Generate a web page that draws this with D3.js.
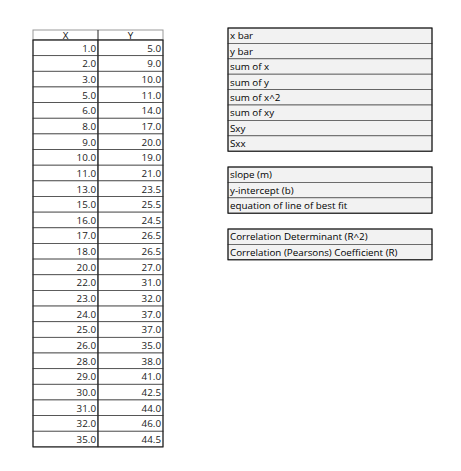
<!DOCTYPE html><html><head><meta charset="utf-8">
<script src="https://cdn.jsdelivr.net/npm/d3@7"></script>
<style>body{margin:0;background:#fff}</style></head><body>
<script>
const xs=[1,2,3,5,6,8,9,10,11,13,15,16,17,18,20,22,23,24,25,26,28,29,30,31,32,35];
const ys=[5,9,10,11,14,17,20,19,21,23.5,25.5,24.5,26.5,26.5,27,31,32,37,37,35,38,41,42.5,44,46,44.5];
const headers=["X","Y"];
const box1=["x bar","y bar","sum of x","sum of y","sum of x^2","sum of xy","Sxy","Sxx"];
const box2=["slope (m)","y-intercept (b)","equation of line of best fit"];
const box3=["Correlation Determinant (R^2)","Correlation (Pearsons) Coefficient (R)"];
const W=461,H=471,rh=15.65,brh=15.4;
const svg=d3.select("body").append("svg").attr("width",W).attr("height",H).style("font-family","'Open Sans',sans-serif").style("font-size","9.8px");
const colX=d3.scaleBand().domain([0,1]).range([33,163]);
const rowY=d3.scaleLinear().domain([0,1]).range([40,40+rh]);
const g=svg.append("g");
g.append("rect").attr("x",33).attr("y",30).attr("width",130).attr("height",10).attr("fill","#fff").attr("stroke","#999");
headers.forEach((h,i)=>g.append("text").attr("x",colX(i)+colX.bandwidth()/2).attr("y",38.5).attr("text-anchor","middle").attr("fill","#111").text(h));
xs.forEach((x,i)=>{
  const y0=rowY(i);
  [x,ys[i]].forEach((v,j)=>{
    g.append("rect").attr("x",colX(j)).attr("y",y0).attr("width",colX.bandwidth()).attr("height",rh).attr("fill","#fff").attr("stroke","#444").attr("stroke-width",0.8);
    g.append("text").attr("x",colX(j)+colX.bandwidth()-2).attr("y",y0+rh-4).attr("text-anchor","end").attr("fill","#222").text(d3.format(".1f")(v));
  });
});
g.append("rect").attr("x",33).attr("y",40).attr("width",130).attr("height",rh*xs.length).attr("fill","none").attr("stroke","#222").attr("stroke-width",1);
g.append("line").attr("x1",98).attr("x2",98).attr("y1",30).attr("y2",40+rh*xs.length).attr("stroke","#222");
function box(labels,top){
  const bg=svg.append("g");
  labels.forEach((t,i)=>{
    const y0=top+i*brh;
    bg.append("rect").attr("x",228).attr("y",y0).attr("width",204).attr("height",brh).attr("fill","#f2f2f2").attr("stroke","#555").attr("stroke-width",0.8);
    bg.append("text").attr("x",230).attr("y",y0+brh-4).attr("fill","#000").text(t);
  });
  bg.append("rect").attr("x",228).attr("y",top).attr("width",204).attr("height",brh*labels.length).attr("fill","none").attr("stroke","#111").attr("stroke-width",1);
}
box(box1,28);box(box2,167);box(box3,229);
</script></body></html>
